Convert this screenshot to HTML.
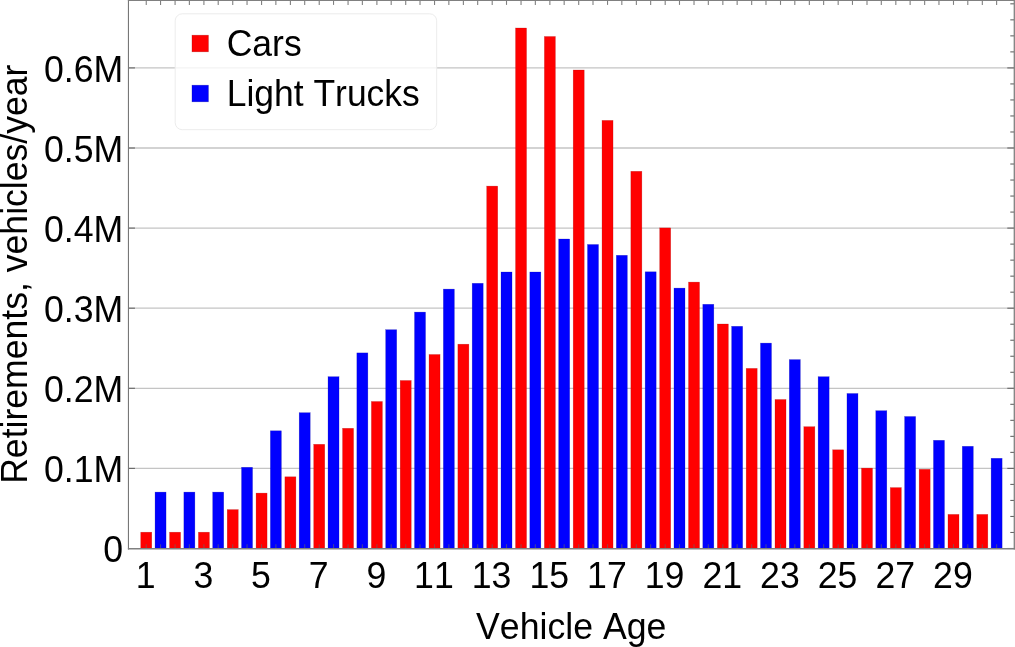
<!DOCTYPE html><html><head><meta charset="utf-8"><title>Retirements by Vehicle Age</title><style>html,body{margin:0;padding:0;background:#fff}svg{display:block}text{font-kerning:none;font-family:"Liberation Sans",Arial,Helvetica,sans-serif;fill:#000}</style></head><body>
<svg width="1015" height="647" viewBox="0 0 1015 647">
<rect width="1015" height="647" fill="#fff"/>
<line x1="128.45" x2="1014.3" y1="468.40" y2="468.40" stroke="#c4c4c4" stroke-width="1.3"/>
<line x1="128.45" x2="1014.3" y1="388.30" y2="388.30" stroke="#c4c4c4" stroke-width="1.3"/>
<line x1="128.45" x2="1014.3" y1="308.20" y2="308.20" stroke="#c4c4c4" stroke-width="1.3"/>
<line x1="128.45" x2="1014.3" y1="228.10" y2="228.10" stroke="#c4c4c4" stroke-width="1.3"/>
<line x1="128.45" x2="1014.3" y1="148.00" y2="148.00" stroke="#c4c4c4" stroke-width="1.3"/>
<line x1="128.45" x2="1014.3" y1="67.90" y2="67.90" stroke="#c4c4c4" stroke-width="1.3"/>
<rect x="140.75" y="532.20" width="11.0" height="16.20" fill="#ff0000" stroke="#a00000" stroke-opacity="0.45" stroke-width="0.5"/>
<rect x="155.05" y="492.10" width="11.0" height="56.30" fill="#0000ff" stroke="#0000a0" stroke-opacity="0.45" stroke-width="0.5"/>
<rect x="169.58" y="532.20" width="11.0" height="16.20" fill="#ff0000" stroke="#a00000" stroke-opacity="0.45" stroke-width="0.5"/>
<rect x="183.88" y="492.10" width="11.0" height="56.30" fill="#0000ff" stroke="#0000a0" stroke-opacity="0.45" stroke-width="0.5"/>
<rect x="198.41" y="532.20" width="11.0" height="16.20" fill="#ff0000" stroke="#a00000" stroke-opacity="0.45" stroke-width="0.5"/>
<rect x="212.71" y="492.10" width="11.0" height="56.30" fill="#0000ff" stroke="#0000a0" stroke-opacity="0.45" stroke-width="0.5"/>
<rect x="227.24" y="509.60" width="11.0" height="38.80" fill="#ff0000" stroke="#a00000" stroke-opacity="0.45" stroke-width="0.5"/>
<rect x="241.54" y="467.30" width="11.0" height="81.10" fill="#0000ff" stroke="#0000a0" stroke-opacity="0.45" stroke-width="0.5"/>
<rect x="256.07" y="493.10" width="11.0" height="55.30" fill="#ff0000" stroke="#a00000" stroke-opacity="0.45" stroke-width="0.5"/>
<rect x="270.37" y="430.80" width="11.0" height="117.60" fill="#0000ff" stroke="#0000a0" stroke-opacity="0.45" stroke-width="0.5"/>
<rect x="284.90" y="476.80" width="11.0" height="71.60" fill="#ff0000" stroke="#a00000" stroke-opacity="0.45" stroke-width="0.5"/>
<rect x="299.20" y="412.70" width="11.0" height="135.70" fill="#0000ff" stroke="#0000a0" stroke-opacity="0.45" stroke-width="0.5"/>
<rect x="313.73" y="444.30" width="11.0" height="104.10" fill="#ff0000" stroke="#a00000" stroke-opacity="0.45" stroke-width="0.5"/>
<rect x="328.03" y="376.70" width="11.0" height="171.70" fill="#0000ff" stroke="#0000a0" stroke-opacity="0.45" stroke-width="0.5"/>
<rect x="342.56" y="428.30" width="11.0" height="120.10" fill="#ff0000" stroke="#a00000" stroke-opacity="0.45" stroke-width="0.5"/>
<rect x="356.86" y="352.90" width="11.0" height="195.50" fill="#0000ff" stroke="#0000a0" stroke-opacity="0.45" stroke-width="0.5"/>
<rect x="371.39" y="401.50" width="11.0" height="146.90" fill="#ff0000" stroke="#a00000" stroke-opacity="0.45" stroke-width="0.5"/>
<rect x="385.69" y="329.70" width="11.0" height="218.70" fill="#0000ff" stroke="#0000a0" stroke-opacity="0.45" stroke-width="0.5"/>
<rect x="400.22" y="380.50" width="11.0" height="167.90" fill="#ff0000" stroke="#a00000" stroke-opacity="0.45" stroke-width="0.5"/>
<rect x="414.52" y="312.10" width="11.0" height="236.30" fill="#0000ff" stroke="#0000a0" stroke-opacity="0.45" stroke-width="0.5"/>
<rect x="429.05" y="354.50" width="11.0" height="193.90" fill="#ff0000" stroke="#a00000" stroke-opacity="0.45" stroke-width="0.5"/>
<rect x="443.35" y="289.10" width="11.0" height="259.30" fill="#0000ff" stroke="#0000a0" stroke-opacity="0.45" stroke-width="0.5"/>
<rect x="457.88" y="344.20" width="11.0" height="204.20" fill="#ff0000" stroke="#a00000" stroke-opacity="0.45" stroke-width="0.5"/>
<rect x="472.18" y="283.30" width="11.0" height="265.10" fill="#0000ff" stroke="#0000a0" stroke-opacity="0.45" stroke-width="0.5"/>
<rect x="486.71" y="186.10" width="11.0" height="362.30" fill="#ff0000" stroke="#a00000" stroke-opacity="0.45" stroke-width="0.5"/>
<rect x="501.01" y="272.00" width="11.0" height="276.40" fill="#0000ff" stroke="#0000a0" stroke-opacity="0.45" stroke-width="0.5"/>
<rect x="515.54" y="28.00" width="11.0" height="520.40" fill="#ff0000" stroke="#a00000" stroke-opacity="0.45" stroke-width="0.5"/>
<rect x="529.84" y="272.00" width="11.0" height="276.40" fill="#0000ff" stroke="#0000a0" stroke-opacity="0.45" stroke-width="0.5"/>
<rect x="544.37" y="36.50" width="11.0" height="511.90" fill="#ff0000" stroke="#a00000" stroke-opacity="0.45" stroke-width="0.5"/>
<rect x="558.67" y="239.00" width="11.0" height="309.40" fill="#0000ff" stroke="#0000a0" stroke-opacity="0.45" stroke-width="0.5"/>
<rect x="573.20" y="70.00" width="11.0" height="478.40" fill="#ff0000" stroke="#a00000" stroke-opacity="0.45" stroke-width="0.5"/>
<rect x="587.50" y="244.50" width="11.0" height="303.90" fill="#0000ff" stroke="#0000a0" stroke-opacity="0.45" stroke-width="0.5"/>
<rect x="602.03" y="120.40" width="11.0" height="428.00" fill="#ff0000" stroke="#a00000" stroke-opacity="0.45" stroke-width="0.5"/>
<rect x="616.33" y="255.30" width="11.0" height="293.10" fill="#0000ff" stroke="#0000a0" stroke-opacity="0.45" stroke-width="0.5"/>
<rect x="630.86" y="171.30" width="11.0" height="377.10" fill="#ff0000" stroke="#a00000" stroke-opacity="0.45" stroke-width="0.5"/>
<rect x="645.16" y="271.80" width="11.0" height="276.60" fill="#0000ff" stroke="#0000a0" stroke-opacity="0.45" stroke-width="0.5"/>
<rect x="659.69" y="227.90" width="11.0" height="320.50" fill="#ff0000" stroke="#a00000" stroke-opacity="0.45" stroke-width="0.5"/>
<rect x="673.99" y="288.10" width="11.0" height="260.30" fill="#0000ff" stroke="#0000a0" stroke-opacity="0.45" stroke-width="0.5"/>
<rect x="688.52" y="282.10" width="11.0" height="266.30" fill="#ff0000" stroke="#a00000" stroke-opacity="0.45" stroke-width="0.5"/>
<rect x="702.82" y="304.30" width="11.0" height="244.10" fill="#0000ff" stroke="#0000a0" stroke-opacity="0.45" stroke-width="0.5"/>
<rect x="717.35" y="324.00" width="11.0" height="224.40" fill="#ff0000" stroke="#a00000" stroke-opacity="0.45" stroke-width="0.5"/>
<rect x="731.65" y="326.30" width="11.0" height="222.10" fill="#0000ff" stroke="#0000a0" stroke-opacity="0.45" stroke-width="0.5"/>
<rect x="746.18" y="368.40" width="11.0" height="180.00" fill="#ff0000" stroke="#a00000" stroke-opacity="0.45" stroke-width="0.5"/>
<rect x="760.48" y="343.10" width="11.0" height="205.30" fill="#0000ff" stroke="#0000a0" stroke-opacity="0.45" stroke-width="0.5"/>
<rect x="775.01" y="399.50" width="11.0" height="148.90" fill="#ff0000" stroke="#a00000" stroke-opacity="0.45" stroke-width="0.5"/>
<rect x="789.31" y="359.60" width="11.0" height="188.80" fill="#0000ff" stroke="#0000a0" stroke-opacity="0.45" stroke-width="0.5"/>
<rect x="803.84" y="426.70" width="11.0" height="121.70" fill="#ff0000" stroke="#a00000" stroke-opacity="0.45" stroke-width="0.5"/>
<rect x="818.14" y="376.70" width="11.0" height="171.70" fill="#0000ff" stroke="#0000a0" stroke-opacity="0.45" stroke-width="0.5"/>
<rect x="832.67" y="449.80" width="11.0" height="98.60" fill="#ff0000" stroke="#a00000" stroke-opacity="0.45" stroke-width="0.5"/>
<rect x="846.97" y="393.50" width="11.0" height="154.90" fill="#0000ff" stroke="#0000a0" stroke-opacity="0.45" stroke-width="0.5"/>
<rect x="861.50" y="468.10" width="11.0" height="80.30" fill="#ff0000" stroke="#a00000" stroke-opacity="0.45" stroke-width="0.5"/>
<rect x="875.80" y="410.70" width="11.0" height="137.70" fill="#0000ff" stroke="#0000a0" stroke-opacity="0.45" stroke-width="0.5"/>
<rect x="890.33" y="487.60" width="11.0" height="60.80" fill="#ff0000" stroke="#a00000" stroke-opacity="0.45" stroke-width="0.5"/>
<rect x="904.63" y="416.50" width="11.0" height="131.90" fill="#0000ff" stroke="#0000a0" stroke-opacity="0.45" stroke-width="0.5"/>
<rect x="919.16" y="469.30" width="11.0" height="79.10" fill="#ff0000" stroke="#a00000" stroke-opacity="0.45" stroke-width="0.5"/>
<rect x="933.46" y="440.30" width="11.0" height="108.10" fill="#0000ff" stroke="#0000a0" stroke-opacity="0.45" stroke-width="0.5"/>
<rect x="947.99" y="514.40" width="11.0" height="34.00" fill="#ff0000" stroke="#a00000" stroke-opacity="0.45" stroke-width="0.5"/>
<rect x="962.29" y="446.30" width="11.0" height="102.10" fill="#0000ff" stroke="#0000a0" stroke-opacity="0.45" stroke-width="0.5"/>
<rect x="976.82" y="514.40" width="11.0" height="34.00" fill="#ff0000" stroke="#a00000" stroke-opacity="0.45" stroke-width="0.5"/>
<rect x="991.12" y="458.30" width="11.0" height="90.10" fill="#0000ff" stroke="#0000a0" stroke-opacity="0.45" stroke-width="0.5"/>
<line x1="146.25" x2="146.25" y1="548.75" y2="544.15" stroke="#666" stroke-opacity="0.6" stroke-width="1.1"/>
<line x1="146.25" x2="146.25" y1="0.5" y2="4.90" stroke="#808080" stroke-width="1.1"/>
<line x1="160.55" x2="160.55" y1="548.75" y2="544.15" stroke="#666" stroke-opacity="0.6" stroke-width="1.1"/>
<line x1="160.55" x2="160.55" y1="0.5" y2="4.90" stroke="#808080" stroke-width="1.1"/>
<line x1="175.08" x2="175.08" y1="548.75" y2="544.15" stroke="#666" stroke-opacity="0.6" stroke-width="1.1"/>
<line x1="175.08" x2="175.08" y1="0.5" y2="4.90" stroke="#808080" stroke-width="1.1"/>
<line x1="189.38" x2="189.38" y1="548.75" y2="544.15" stroke="#666" stroke-opacity="0.6" stroke-width="1.1"/>
<line x1="189.38" x2="189.38" y1="0.5" y2="4.90" stroke="#808080" stroke-width="1.1"/>
<line x1="203.91" x2="203.91" y1="548.75" y2="544.15" stroke="#666" stroke-opacity="0.6" stroke-width="1.1"/>
<line x1="203.91" x2="203.91" y1="0.5" y2="4.90" stroke="#808080" stroke-width="1.1"/>
<line x1="218.21" x2="218.21" y1="548.75" y2="544.15" stroke="#666" stroke-opacity="0.6" stroke-width="1.1"/>
<line x1="218.21" x2="218.21" y1="0.5" y2="4.90" stroke="#808080" stroke-width="1.1"/>
<line x1="232.74" x2="232.74" y1="548.75" y2="544.15" stroke="#666" stroke-opacity="0.6" stroke-width="1.1"/>
<line x1="232.74" x2="232.74" y1="0.5" y2="4.90" stroke="#808080" stroke-width="1.1"/>
<line x1="247.04" x2="247.04" y1="548.75" y2="544.15" stroke="#666" stroke-opacity="0.6" stroke-width="1.1"/>
<line x1="247.04" x2="247.04" y1="0.5" y2="4.90" stroke="#808080" stroke-width="1.1"/>
<line x1="261.57" x2="261.57" y1="548.75" y2="544.15" stroke="#666" stroke-opacity="0.6" stroke-width="1.1"/>
<line x1="261.57" x2="261.57" y1="0.5" y2="4.90" stroke="#808080" stroke-width="1.1"/>
<line x1="275.87" x2="275.87" y1="548.75" y2="544.15" stroke="#666" stroke-opacity="0.6" stroke-width="1.1"/>
<line x1="275.87" x2="275.87" y1="0.5" y2="4.90" stroke="#808080" stroke-width="1.1"/>
<line x1="290.40" x2="290.40" y1="548.75" y2="544.15" stroke="#666" stroke-opacity="0.6" stroke-width="1.1"/>
<line x1="290.40" x2="290.40" y1="0.5" y2="4.90" stroke="#808080" stroke-width="1.1"/>
<line x1="304.70" x2="304.70" y1="548.75" y2="544.15" stroke="#666" stroke-opacity="0.6" stroke-width="1.1"/>
<line x1="304.70" x2="304.70" y1="0.5" y2="4.90" stroke="#808080" stroke-width="1.1"/>
<line x1="319.23" x2="319.23" y1="548.75" y2="544.15" stroke="#666" stroke-opacity="0.6" stroke-width="1.1"/>
<line x1="319.23" x2="319.23" y1="0.5" y2="4.90" stroke="#808080" stroke-width="1.1"/>
<line x1="333.53" x2="333.53" y1="548.75" y2="544.15" stroke="#666" stroke-opacity="0.6" stroke-width="1.1"/>
<line x1="333.53" x2="333.53" y1="0.5" y2="4.90" stroke="#808080" stroke-width="1.1"/>
<line x1="348.06" x2="348.06" y1="548.75" y2="544.15" stroke="#666" stroke-opacity="0.6" stroke-width="1.1"/>
<line x1="348.06" x2="348.06" y1="0.5" y2="4.90" stroke="#808080" stroke-width="1.1"/>
<line x1="362.36" x2="362.36" y1="548.75" y2="544.15" stroke="#666" stroke-opacity="0.6" stroke-width="1.1"/>
<line x1="362.36" x2="362.36" y1="0.5" y2="4.90" stroke="#808080" stroke-width="1.1"/>
<line x1="376.89" x2="376.89" y1="548.75" y2="544.15" stroke="#666" stroke-opacity="0.6" stroke-width="1.1"/>
<line x1="376.89" x2="376.89" y1="0.5" y2="4.90" stroke="#808080" stroke-width="1.1"/>
<line x1="391.19" x2="391.19" y1="548.75" y2="544.15" stroke="#666" stroke-opacity="0.6" stroke-width="1.1"/>
<line x1="391.19" x2="391.19" y1="0.5" y2="4.90" stroke="#808080" stroke-width="1.1"/>
<line x1="405.72" x2="405.72" y1="548.75" y2="544.15" stroke="#666" stroke-opacity="0.6" stroke-width="1.1"/>
<line x1="405.72" x2="405.72" y1="0.5" y2="4.90" stroke="#808080" stroke-width="1.1"/>
<line x1="420.02" x2="420.02" y1="548.75" y2="544.15" stroke="#666" stroke-opacity="0.6" stroke-width="1.1"/>
<line x1="420.02" x2="420.02" y1="0.5" y2="4.90" stroke="#808080" stroke-width="1.1"/>
<line x1="434.55" x2="434.55" y1="548.75" y2="544.15" stroke="#666" stroke-opacity="0.6" stroke-width="1.1"/>
<line x1="434.55" x2="434.55" y1="0.5" y2="4.90" stroke="#808080" stroke-width="1.1"/>
<line x1="448.85" x2="448.85" y1="548.75" y2="544.15" stroke="#666" stroke-opacity="0.6" stroke-width="1.1"/>
<line x1="448.85" x2="448.85" y1="0.5" y2="4.90" stroke="#808080" stroke-width="1.1"/>
<line x1="463.38" x2="463.38" y1="548.75" y2="544.15" stroke="#666" stroke-opacity="0.6" stroke-width="1.1"/>
<line x1="463.38" x2="463.38" y1="0.5" y2="4.90" stroke="#808080" stroke-width="1.1"/>
<line x1="477.68" x2="477.68" y1="548.75" y2="544.15" stroke="#666" stroke-opacity="0.6" stroke-width="1.1"/>
<line x1="477.68" x2="477.68" y1="0.5" y2="4.90" stroke="#808080" stroke-width="1.1"/>
<line x1="492.21" x2="492.21" y1="548.75" y2="544.15" stroke="#666" stroke-opacity="0.6" stroke-width="1.1"/>
<line x1="492.21" x2="492.21" y1="0.5" y2="4.90" stroke="#808080" stroke-width="1.1"/>
<line x1="506.51" x2="506.51" y1="548.75" y2="544.15" stroke="#666" stroke-opacity="0.6" stroke-width="1.1"/>
<line x1="506.51" x2="506.51" y1="0.5" y2="4.90" stroke="#808080" stroke-width="1.1"/>
<line x1="521.04" x2="521.04" y1="548.75" y2="544.15" stroke="#666" stroke-opacity="0.6" stroke-width="1.1"/>
<line x1="521.04" x2="521.04" y1="0.5" y2="4.90" stroke="#808080" stroke-width="1.1"/>
<line x1="535.34" x2="535.34" y1="548.75" y2="544.15" stroke="#666" stroke-opacity="0.6" stroke-width="1.1"/>
<line x1="535.34" x2="535.34" y1="0.5" y2="4.90" stroke="#808080" stroke-width="1.1"/>
<line x1="549.87" x2="549.87" y1="548.75" y2="544.15" stroke="#666" stroke-opacity="0.6" stroke-width="1.1"/>
<line x1="549.87" x2="549.87" y1="0.5" y2="4.90" stroke="#808080" stroke-width="1.1"/>
<line x1="564.17" x2="564.17" y1="548.75" y2="544.15" stroke="#666" stroke-opacity="0.6" stroke-width="1.1"/>
<line x1="564.17" x2="564.17" y1="0.5" y2="4.90" stroke="#808080" stroke-width="1.1"/>
<line x1="578.70" x2="578.70" y1="548.75" y2="544.15" stroke="#666" stroke-opacity="0.6" stroke-width="1.1"/>
<line x1="578.70" x2="578.70" y1="0.5" y2="4.90" stroke="#808080" stroke-width="1.1"/>
<line x1="593.00" x2="593.00" y1="548.75" y2="544.15" stroke="#666" stroke-opacity="0.6" stroke-width="1.1"/>
<line x1="593.00" x2="593.00" y1="0.5" y2="4.90" stroke="#808080" stroke-width="1.1"/>
<line x1="607.53" x2="607.53" y1="548.75" y2="544.15" stroke="#666" stroke-opacity="0.6" stroke-width="1.1"/>
<line x1="607.53" x2="607.53" y1="0.5" y2="4.90" stroke="#808080" stroke-width="1.1"/>
<line x1="621.83" x2="621.83" y1="548.75" y2="544.15" stroke="#666" stroke-opacity="0.6" stroke-width="1.1"/>
<line x1="621.83" x2="621.83" y1="0.5" y2="4.90" stroke="#808080" stroke-width="1.1"/>
<line x1="636.36" x2="636.36" y1="548.75" y2="544.15" stroke="#666" stroke-opacity="0.6" stroke-width="1.1"/>
<line x1="636.36" x2="636.36" y1="0.5" y2="4.90" stroke="#808080" stroke-width="1.1"/>
<line x1="650.66" x2="650.66" y1="548.75" y2="544.15" stroke="#666" stroke-opacity="0.6" stroke-width="1.1"/>
<line x1="650.66" x2="650.66" y1="0.5" y2="4.90" stroke="#808080" stroke-width="1.1"/>
<line x1="665.19" x2="665.19" y1="548.75" y2="544.15" stroke="#666" stroke-opacity="0.6" stroke-width="1.1"/>
<line x1="665.19" x2="665.19" y1="0.5" y2="4.90" stroke="#808080" stroke-width="1.1"/>
<line x1="679.49" x2="679.49" y1="548.75" y2="544.15" stroke="#666" stroke-opacity="0.6" stroke-width="1.1"/>
<line x1="679.49" x2="679.49" y1="0.5" y2="4.90" stroke="#808080" stroke-width="1.1"/>
<line x1="694.02" x2="694.02" y1="548.75" y2="544.15" stroke="#666" stroke-opacity="0.6" stroke-width="1.1"/>
<line x1="694.02" x2="694.02" y1="0.5" y2="4.90" stroke="#808080" stroke-width="1.1"/>
<line x1="708.32" x2="708.32" y1="548.75" y2="544.15" stroke="#666" stroke-opacity="0.6" stroke-width="1.1"/>
<line x1="708.32" x2="708.32" y1="0.5" y2="4.90" stroke="#808080" stroke-width="1.1"/>
<line x1="722.85" x2="722.85" y1="548.75" y2="544.15" stroke="#666" stroke-opacity="0.6" stroke-width="1.1"/>
<line x1="722.85" x2="722.85" y1="0.5" y2="4.90" stroke="#808080" stroke-width="1.1"/>
<line x1="737.15" x2="737.15" y1="548.75" y2="544.15" stroke="#666" stroke-opacity="0.6" stroke-width="1.1"/>
<line x1="737.15" x2="737.15" y1="0.5" y2="4.90" stroke="#808080" stroke-width="1.1"/>
<line x1="751.68" x2="751.68" y1="548.75" y2="544.15" stroke="#666" stroke-opacity="0.6" stroke-width="1.1"/>
<line x1="751.68" x2="751.68" y1="0.5" y2="4.90" stroke="#808080" stroke-width="1.1"/>
<line x1="765.98" x2="765.98" y1="548.75" y2="544.15" stroke="#666" stroke-opacity="0.6" stroke-width="1.1"/>
<line x1="765.98" x2="765.98" y1="0.5" y2="4.90" stroke="#808080" stroke-width="1.1"/>
<line x1="780.51" x2="780.51" y1="548.75" y2="544.15" stroke="#666" stroke-opacity="0.6" stroke-width="1.1"/>
<line x1="780.51" x2="780.51" y1="0.5" y2="4.90" stroke="#808080" stroke-width="1.1"/>
<line x1="794.81" x2="794.81" y1="548.75" y2="544.15" stroke="#666" stroke-opacity="0.6" stroke-width="1.1"/>
<line x1="794.81" x2="794.81" y1="0.5" y2="4.90" stroke="#808080" stroke-width="1.1"/>
<line x1="809.34" x2="809.34" y1="548.75" y2="544.15" stroke="#666" stroke-opacity="0.6" stroke-width="1.1"/>
<line x1="809.34" x2="809.34" y1="0.5" y2="4.90" stroke="#808080" stroke-width="1.1"/>
<line x1="823.64" x2="823.64" y1="548.75" y2="544.15" stroke="#666" stroke-opacity="0.6" stroke-width="1.1"/>
<line x1="823.64" x2="823.64" y1="0.5" y2="4.90" stroke="#808080" stroke-width="1.1"/>
<line x1="838.17" x2="838.17" y1="548.75" y2="544.15" stroke="#666" stroke-opacity="0.6" stroke-width="1.1"/>
<line x1="838.17" x2="838.17" y1="0.5" y2="4.90" stroke="#808080" stroke-width="1.1"/>
<line x1="852.47" x2="852.47" y1="548.75" y2="544.15" stroke="#666" stroke-opacity="0.6" stroke-width="1.1"/>
<line x1="852.47" x2="852.47" y1="0.5" y2="4.90" stroke="#808080" stroke-width="1.1"/>
<line x1="867.00" x2="867.00" y1="548.75" y2="544.15" stroke="#666" stroke-opacity="0.6" stroke-width="1.1"/>
<line x1="867.00" x2="867.00" y1="0.5" y2="4.90" stroke="#808080" stroke-width="1.1"/>
<line x1="881.30" x2="881.30" y1="548.75" y2="544.15" stroke="#666" stroke-opacity="0.6" stroke-width="1.1"/>
<line x1="881.30" x2="881.30" y1="0.5" y2="4.90" stroke="#808080" stroke-width="1.1"/>
<line x1="895.83" x2="895.83" y1="548.75" y2="544.15" stroke="#666" stroke-opacity="0.6" stroke-width="1.1"/>
<line x1="895.83" x2="895.83" y1="0.5" y2="4.90" stroke="#808080" stroke-width="1.1"/>
<line x1="910.13" x2="910.13" y1="548.75" y2="544.15" stroke="#666" stroke-opacity="0.6" stroke-width="1.1"/>
<line x1="910.13" x2="910.13" y1="0.5" y2="4.90" stroke="#808080" stroke-width="1.1"/>
<line x1="924.66" x2="924.66" y1="548.75" y2="544.15" stroke="#666" stroke-opacity="0.6" stroke-width="1.1"/>
<line x1="924.66" x2="924.66" y1="0.5" y2="4.90" stroke="#808080" stroke-width="1.1"/>
<line x1="938.96" x2="938.96" y1="548.75" y2="544.15" stroke="#666" stroke-opacity="0.6" stroke-width="1.1"/>
<line x1="938.96" x2="938.96" y1="0.5" y2="4.90" stroke="#808080" stroke-width="1.1"/>
<line x1="953.49" x2="953.49" y1="548.75" y2="544.15" stroke="#666" stroke-opacity="0.6" stroke-width="1.1"/>
<line x1="953.49" x2="953.49" y1="0.5" y2="4.90" stroke="#808080" stroke-width="1.1"/>
<line x1="967.79" x2="967.79" y1="548.75" y2="544.15" stroke="#666" stroke-opacity="0.6" stroke-width="1.1"/>
<line x1="967.79" x2="967.79" y1="0.5" y2="4.90" stroke="#808080" stroke-width="1.1"/>
<line x1="982.32" x2="982.32" y1="548.75" y2="544.15" stroke="#666" stroke-opacity="0.6" stroke-width="1.1"/>
<line x1="982.32" x2="982.32" y1="0.5" y2="4.90" stroke="#808080" stroke-width="1.1"/>
<line x1="996.62" x2="996.62" y1="548.75" y2="544.15" stroke="#666" stroke-opacity="0.6" stroke-width="1.1"/>
<line x1="996.62" x2="996.62" y1="0.5" y2="4.90" stroke="#808080" stroke-width="1.1"/>
<line x1="1014.3" x2="1007.3" y1="548.50" y2="548.50" stroke="#666" stroke-width="1.1"/>
<line x1="1014.3" x2="1010.3" y1="532.48" y2="532.48" stroke="#666" stroke-width="1.1"/>
<line x1="1014.3" x2="1010.3" y1="516.46" y2="516.46" stroke="#666" stroke-width="1.1"/>
<line x1="1014.3" x2="1010.3" y1="500.44" y2="500.44" stroke="#666" stroke-width="1.1"/>
<line x1="1014.3" x2="1010.3" y1="484.42" y2="484.42" stroke="#666" stroke-width="1.1"/>
<line x1="1014.3" x2="1007.3" y1="468.40" y2="468.40" stroke="#666" stroke-width="1.1"/>
<line x1="128.45" x2="134.95" y1="468.40" y2="468.40" stroke="#666" stroke-width="1.1"/>
<line x1="1014.3" x2="1010.3" y1="452.38" y2="452.38" stroke="#666" stroke-width="1.1"/>
<line x1="1014.3" x2="1010.3" y1="436.36" y2="436.36" stroke="#666" stroke-width="1.1"/>
<line x1="1014.3" x2="1010.3" y1="420.34" y2="420.34" stroke="#666" stroke-width="1.1"/>
<line x1="1014.3" x2="1010.3" y1="404.32" y2="404.32" stroke="#666" stroke-width="1.1"/>
<line x1="1014.3" x2="1007.3" y1="388.30" y2="388.30" stroke="#666" stroke-width="1.1"/>
<line x1="128.45" x2="134.95" y1="388.30" y2="388.30" stroke="#666" stroke-width="1.1"/>
<line x1="1014.3" x2="1010.3" y1="372.28" y2="372.28" stroke="#666" stroke-width="1.1"/>
<line x1="1014.3" x2="1010.3" y1="356.26" y2="356.26" stroke="#666" stroke-width="1.1"/>
<line x1="1014.3" x2="1010.3" y1="340.24" y2="340.24" stroke="#666" stroke-width="1.1"/>
<line x1="1014.3" x2="1010.3" y1="324.22" y2="324.22" stroke="#666" stroke-width="1.1"/>
<line x1="1014.3" x2="1007.3" y1="308.20" y2="308.20" stroke="#666" stroke-width="1.1"/>
<line x1="128.45" x2="134.95" y1="308.20" y2="308.20" stroke="#666" stroke-width="1.1"/>
<line x1="1014.3" x2="1010.3" y1="292.18" y2="292.18" stroke="#666" stroke-width="1.1"/>
<line x1="1014.3" x2="1010.3" y1="276.16" y2="276.16" stroke="#666" stroke-width="1.1"/>
<line x1="1014.3" x2="1010.3" y1="260.14" y2="260.14" stroke="#666" stroke-width="1.1"/>
<line x1="1014.3" x2="1010.3" y1="244.12" y2="244.12" stroke="#666" stroke-width="1.1"/>
<line x1="1014.3" x2="1007.3" y1="228.10" y2="228.10" stroke="#666" stroke-width="1.1"/>
<line x1="128.45" x2="134.95" y1="228.10" y2="228.10" stroke="#666" stroke-width="1.1"/>
<line x1="1014.3" x2="1010.3" y1="212.08" y2="212.08" stroke="#666" stroke-width="1.1"/>
<line x1="1014.3" x2="1010.3" y1="196.06" y2="196.06" stroke="#666" stroke-width="1.1"/>
<line x1="1014.3" x2="1010.3" y1="180.04" y2="180.04" stroke="#666" stroke-width="1.1"/>
<line x1="1014.3" x2="1010.3" y1="164.02" y2="164.02" stroke="#666" stroke-width="1.1"/>
<line x1="1014.3" x2="1007.3" y1="148.00" y2="148.00" stroke="#666" stroke-width="1.1"/>
<line x1="128.45" x2="134.95" y1="148.00" y2="148.00" stroke="#666" stroke-width="1.1"/>
<line x1="1014.3" x2="1010.3" y1="131.98" y2="131.98" stroke="#666" stroke-width="1.1"/>
<line x1="1014.3" x2="1010.3" y1="115.96" y2="115.96" stroke="#666" stroke-width="1.1"/>
<line x1="1014.3" x2="1010.3" y1="99.94" y2="99.94" stroke="#666" stroke-width="1.1"/>
<line x1="1014.3" x2="1010.3" y1="83.92" y2="83.92" stroke="#666" stroke-width="1.1"/>
<line x1="1014.3" x2="1007.3" y1="67.90" y2="67.90" stroke="#666" stroke-width="1.1"/>
<line x1="128.45" x2="134.95" y1="67.90" y2="67.90" stroke="#666" stroke-width="1.1"/>
<line x1="1014.3" x2="1010.3" y1="51.88" y2="51.88" stroke="#666" stroke-width="1.1"/>
<line x1="1014.3" x2="1010.3" y1="35.86" y2="35.86" stroke="#666" stroke-width="1.1"/>
<line x1="1014.3" x2="1010.3" y1="19.84" y2="19.84" stroke="#666" stroke-width="1.1"/>
<line x1="1014.3" x2="1010.3" y1="3.82" y2="3.82" stroke="#666" stroke-width="1.1"/>
<line x1="128.45" x2="128.45" y1="0" y2="549.4" stroke="#777" stroke-width="1.1"/>
<line x1="127.89999999999999" x2="1015" y1="548.75" y2="548.75" stroke="#808080" stroke-width="1.4"/>
<line x1="127.89999999999999" x2="1015" y1="0.5" y2="0.5" stroke="#808080" stroke-width="1.1"/>
<line x1="1014.3" x2="1014.3" y1="0" y2="549.4" stroke="#808080" stroke-width="1.3"/>
<text transform="translate(123.20 562.10) scale(1.005 1.06)" font-size="35.5" text-anchor="end">0</text>
<text transform="translate(123.20 482.00) scale(1.005 1.06)" font-size="35.5" text-anchor="end">0.1M</text>
<text transform="translate(123.20 401.90) scale(1.005 1.06)" font-size="35.5" text-anchor="end">0.2M</text>
<text transform="translate(123.20 321.80) scale(1.005 1.06)" font-size="35.5" text-anchor="end">0.3M</text>
<text transform="translate(123.20 241.70) scale(1.005 1.06)" font-size="35.5" text-anchor="end">0.4M</text>
<text transform="translate(123.20 161.60) scale(1.005 1.06)" font-size="35.5" text-anchor="end">0.5M</text>
<text transform="translate(123.20 81.50) scale(1.005 1.06)" font-size="35.5" text-anchor="end">0.6M</text>
<text transform="translate(145.65 588.20) scale(1.005 1.06)" font-size="35.5" text-anchor="middle">1</text>
<text transform="translate(203.31 588.20) scale(1.005 1.06)" font-size="35.5" text-anchor="middle">3</text>
<text transform="translate(260.97 588.20) scale(1.005 1.06)" font-size="35.5" text-anchor="middle">5</text>
<text transform="translate(318.63 588.20) scale(1.005 1.06)" font-size="35.5" text-anchor="middle">7</text>
<text transform="translate(376.29 588.20) scale(1.005 1.06)" font-size="35.5" text-anchor="middle">9</text>
<text transform="translate(433.95 588.20) scale(1.005 1.06)" font-size="35.5" text-anchor="middle">11</text>
<text transform="translate(491.61 588.20) scale(1.005 1.06)" font-size="35.5" text-anchor="middle">13</text>
<text transform="translate(549.27 588.20) scale(1.005 1.06)" font-size="35.5" text-anchor="middle">15</text>
<text transform="translate(606.93 588.20) scale(1.005 1.06)" font-size="35.5" text-anchor="middle">17</text>
<text transform="translate(664.59 588.20) scale(1.005 1.06)" font-size="35.5" text-anchor="middle">19</text>
<text transform="translate(722.25 588.20) scale(1.005 1.06)" font-size="35.5" text-anchor="middle">21</text>
<text transform="translate(779.91 588.20) scale(1.005 1.06)" font-size="35.5" text-anchor="middle">23</text>
<text transform="translate(837.57 588.20) scale(1.005 1.06)" font-size="35.5" text-anchor="middle">25</text>
<text transform="translate(895.23 588.20) scale(1.005 1.06)" font-size="35.5" text-anchor="middle">27</text>
<text transform="translate(952.89 588.20) scale(1.005 1.06)" font-size="35.5" text-anchor="middle">29</text>
<text transform="translate(571.20 638.80) scale(1.005 1.04)" font-size="35.5" text-anchor="middle">Vehicle Age</text>
<text transform="translate(27.0 274.2) rotate(-90) scale(1.003 1.035)" font-size="35.5" text-anchor="middle">Retirements, vehicles/year</text>
<rect x="175.2" y="13.8" width="261.5" height="115.9" rx="7" ry="7" fill="#fff" fill-opacity="0.8" stroke="#ececec" stroke-width="1"/>
<rect x="192" y="35.2" width="16.4" height="16.6" fill="#ff0000" stroke="#a00000" stroke-opacity="0.5" stroke-width="0.6"/>
<rect x="192" y="85.2" width="16.4" height="16.6" fill="#0000ff" stroke="#0000a0" stroke-opacity="0.5" stroke-width="0.6"/>
<text transform="translate(226.70 55.60) scale(1.0 1.06)" font-size="35.5" text-anchor="start">Cars</text>
<text transform="translate(226.70 105.80) scale(0.999 1.06)" font-size="35.5" text-anchor="start">Light Trucks</text>
</svg></body></html>
